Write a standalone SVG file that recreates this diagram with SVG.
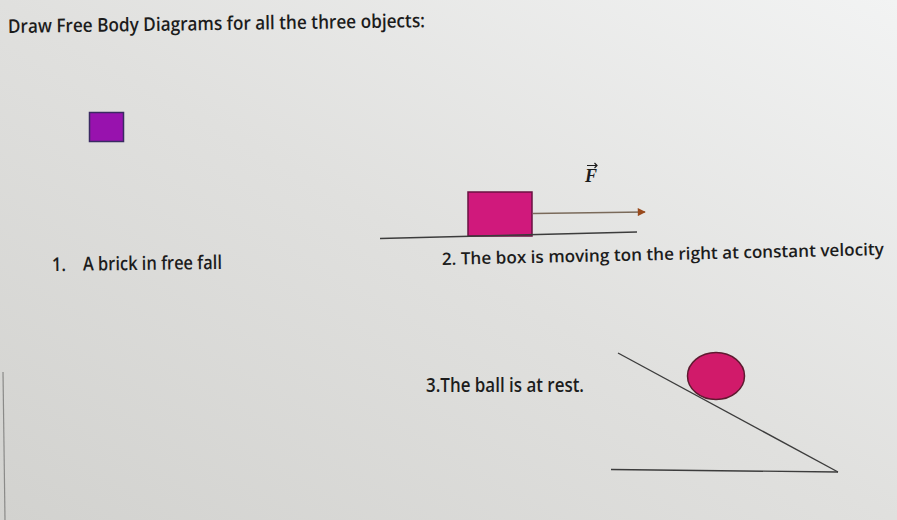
<svg xmlns="http://www.w3.org/2000/svg" width="897" height="520" viewBox="0 0 897 520">
<defs>
<linearGradient id="bg" x1="0" y1="1" x2="1" y2="0">
<stop offset="0" stop-color="#d2d2cf"/>
<stop offset="0.5" stop-color="#e0e0de"/>
<stop offset="1" stop-color="#f2f3f3"/>
</linearGradient>
<marker id="ah" viewBox="0 0 10 10" refX="9" refY="5" markerWidth="10" markerHeight="8" markerUnits="userSpaceOnUse" orient="auto">
<path d="M0,0 L10,5 L0,10 Z" fill="#9a4a1c"/>
</marker>
<style>
.t{font-family:"Open Sans","Liberation Sans",sans-serif;font-weight:600;fill:#1c1c1c}
.ln{stroke:#3c3c3c;stroke-width:1.4;fill:none}
</style>
</defs>
<rect width="897" height="520" fill="url(#bg)"/>
<line x1="3" y1="372" x2="5" y2="520" stroke="#8a8a88" stroke-width="1.2"/>

<g id="title">
<text class="t" x="8" y="33" font-size="19" textLength="417" lengthAdjust="spacingAndGlyphs" transform="rotate(-0.8 8 33)">Draw Free Body Diagrams for all the three objects:</text>
</g>

<g id="brick">
<rect x="89.5" y="112.5" width="34" height="29" fill="#9812ae" stroke="#3a2a62" stroke-width="1.5"/>
</g>
<g id="label1" transform="rotate(-0.7 52 271)">
<text class="t" x="52" y="271" font-size="19" textLength="14" lengthAdjust="spacingAndGlyphs">1.</text>
<text class="t" x="83" y="271" font-size="19" textLength="139" lengthAdjust="spacingAndGlyphs">A brick in free fall</text>
</g>

<g id="box">
<rect x="468" y="192" width="64" height="44" fill="#d0197c" stroke="#6a1242" stroke-width="1.5"/>
</g>
<g id="forceLabel">
<text x="585" y="182" font-family="'Liberation Serif',serif" font-style="italic" font-weight="bold" font-size="18" fill="#1c1c1c">F</text>
<path d="M587,165.5 L597,165.5 M594.5,163 L597,165.5 L594.5,168" stroke="#1c1c1c" stroke-width="1.2" fill="none"/>
</g>
<g id="label2">
<text class="t" x="442" y="265" font-size="17" textLength="442" lengthAdjust="spacingAndGlyphs" transform="rotate(-1.3 442 265)">2. The box is moving ton the right at constant velocity</text>
</g>

<g id="ball">
<ellipse cx="716" cy="376" rx="28.5" ry="23.5" fill="#d11a6a" stroke="#5e1a30" stroke-width="1.5"/>
</g>
<g id="label3">
<text class="t" x="426" y="392" font-size="19" textLength="158" lengthAdjust="spacingAndGlyphs">3.The ball is at rest.</text>
</g>

<g id="connectors">
<line x1="533" y1="213.5" x2="645" y2="212" stroke="#7a6a5a" stroke-width="1.4" marker-end="url(#ah)"/>
<line class="ln" x1="380" y1="238.5" x2="637" y2="232" stroke="#5a5048"/>
<line class="ln" x1="618" y1="353" x2="838" y2="472"/>
<line class="ln" x1="611" y1="469.5" x2="838" y2="472"/>
</g>
</svg>
